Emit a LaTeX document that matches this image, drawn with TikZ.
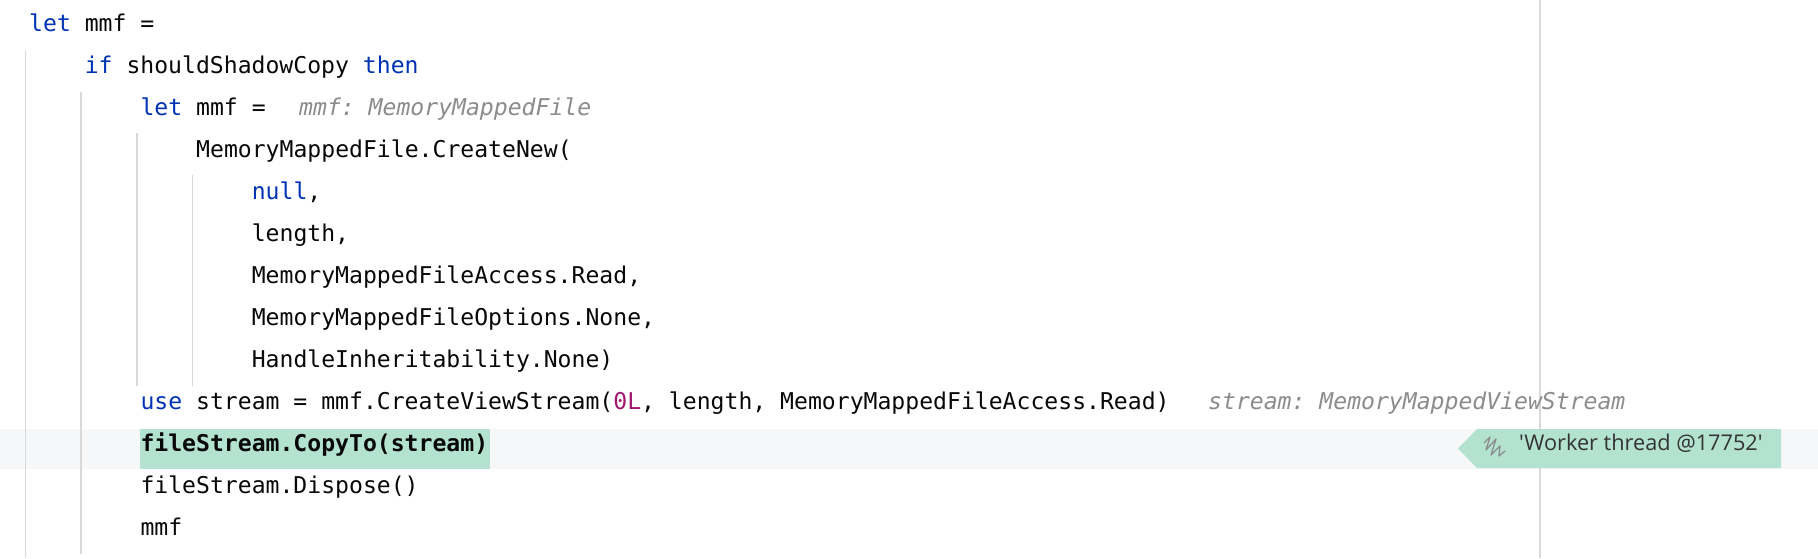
\documentclass[tikz,border=0pt]{standalone}
\usepackage{fontspec}
\setmonofont{DejaVu Sans Mono}
\newfontfamily\badgefont{Open Sans}
\definecolor{kw}{HTML}{0033B3}
\definecolor{txt}{HTML}{080808}
\definecolor{hint}{HTML}{8C8C8C}
\definecolor{num}{HTML}{A0196E}
\definecolor{guide}{HTML}{D9D9D9}
\definecolor{curline}{HTML}{F5F7F8}
\definecolor{exec}{HTML}{B3E3D0}
\begin{document}
\begin{tikzpicture}[x=1pt,y=-1pt,
  code/.style={anchor=mid west,inner sep=0pt,font=\ttfamily\fontsize{23.1}{26}\selectfont,text=txt},
  hinttext/.style={code,font=\ttfamily\itshape\fontsize{23.1}{26}\selectfont,text=hint},
  guideline/.style={draw=guide,line width=1.6pt}]
\useasboundingbox (0,0) rectangle (1818,558);
\fill[white] (0,0) rectangle (1818,558);
\fill[curline] (0,429) rectangle (1818,469);
\fill[exec] (140,429) rectangle (490,469);
% guides
\draw[guideline] (25.5,50) -- (25.5,558);
\draw[guideline] (81,92) -- (81,554);
\draw[guideline] (137,133) -- (137,386);
\draw[guideline] (192.5,175) -- (192.5,386);
\draw[draw=guide,line width=1.4pt] (1540,0) -- (1540,558);
% code lines
\node[code] (l1) at (29,29) {\textcolor{kw}{let} mmf =};
\node[code] (l2) at (84.6,71) {\textcolor{kw}{if} shouldShadowCopy \textcolor{kw}{then}};
\node[code] (l3) at (140.3,113) {\textcolor{kw}{let} mmf =};
\node[hinttext] (h3) at (299,113) {mmf: MemoryMappedFile};
\node[code] (l4) at (196,155) {MemoryMappedFile.CreateNew(};
\node[code] (l5) at (251.6,197) {\textcolor{kw}{null},};
\node[code] (l6) at (251.6,239) {length,};
\node[code] (l7) at (251.6,281) {MemoryMappedFileAccess.Read,};
\node[code] (l8) at (251.6,323) {MemoryMappedFileOptions.None,};
\node[code] (l9) at (251.6,365) {HandleInheritability.None)};
\node[code] (l10) at (140.3,407) {\textcolor{kw}{use} stream = mmf.CreateViewStream(\textcolor{num}{0L}, length, MemoryMappedFileAccess.Read)};
\node[hinttext] (h10) at (1208,407) {stream: MemoryMappedViewStream};
\node[code,font=\ttfamily\bfseries\fontsize{23.1}{26}\selectfont] (l11) at (140.3,449) {fileStream.CopyTo(stream)};
\node[code] (l12) at (140.3,491) {fileStream.Dispose()};
\node[code] (l13) at (140.3,533) {mmf};
% badge
\fill[exec] (1458,448.5) -- (1477,429) -- (1781,429) -- (1781,468) -- (1477,468) -- cycle;
\draw[hint,line width=1.3pt,line cap=round,line join=round]
  (1484,443) -- (1490,437) -- (1486,450) -- (1496,439) -- (1491,455) -- (1500,446) -- (1499,456) -- (1505,451);
\node[anchor=mid west,inner sep=0pt,font=\badgefont\fontsize{21.7}{26}\selectfont,text=black!80] (badge) at (1519,448) {'Worker thread @17752'};
\end{tikzpicture}
\end{document}
